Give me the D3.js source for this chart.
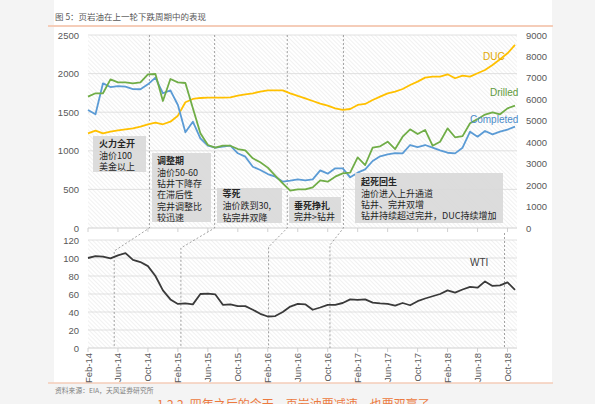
<!DOCTYPE html>
<html><head><meta charset="utf-8">
<script src="https://cdn.jsdelivr.net/npm/d3@7"></script>
<style>
html,body{margin:0;padding:0;background:#f4f4f4;}
svg{display:block;}
</style></head>
<body>
<svg id="chart" width="595" height="404"></svg>
<script>
// ---- data ----
const tickLabels = ["Feb-14","Jun-14","Oct-14","Feb-15","Jun-15","Oct-15","Feb-16","Jun-16","Oct-16","Feb-17","Jun-17","Oct-17","Feb-18","Jun-18","Oct-18"];
const completed = [1528,1473,1874,1826,1839,1830,1800,1797,1861,1947,
  1745,1783,1593,1239,1377,1162,1066,1040,1053,1066,
  968,924,794,751,699,665,600,613,630,617,
  630,747,704,773,773,656,717,760,868,928,
  954,971,967,1075,1049,1075,1040,1005,975,967,
  1040,1248,1183,1257,1213,1248,1275,1313];
const drilled = [1701,1745,1745,1926,1887,1887,1874,1887,1991,1995,
  1645,1930,1887,1878,1550,1226,1075,1040,1066,1066,
  1023,1006,903,851,782,678,579,484,501,501,
  527,618,600,665,708,717,915,816,1040,1058,
  1118,1023,1183,1278,1218,1270,1066,1117,1291,1175,
  1190,1356,1410,1470,1498,1473,1550,1585];
const duc = [4417,4538,4417,4492,4557,4603,4650,4725,4837,4911,
  4837,4958,5238,5862,6017,6063,6078,6078,6078,6090,
  6171,6234,6281,6359,6421,6421,6421,6281,6157,6048,
  5923,5799,5706,5582,5504,5550,5737,5784,5970,6125,
  6281,6359,6483,6670,6825,7011,7057,7057,7167,6982,
  7105,7057,7214,7370,7603,7867,8147,8535];
const wti = [100,102,101.5,99.5,103,105.5,98,95.5,91,80,
  64,54,49,49.5,48.5,60,60.5,59.5,48,48.5,
  46.5,46.5,42.5,38,35,35.5,40,46,49,48.5,
  42.5,45,48,48,50,54,53.5,54,50.5,49.5,
  49,47,50,47.5,52,55,57.5,60,64,61.5,
  65,68,67,74,69,69.5,73,64.5];
const leftTicks = [0,500,1000,1500,2000,2500];
const rightTicks = [0,1000,2000,3000,4000,5000,6000,7000,8000,9000];
const wtiTicks = [0,20,40,60,80,100,120];
const phases = [
  ["火力全开","油价100","美金以上"],
  ["调整期","油价50-60","钻井下降存","在滞后性","完井调整比","较迅速"],
  ["等死","油价跌到30,","钻完井双降"],
  ["垂死挣扎","完井>钻井"],
  ["起死回生","油价进入上升通道","钻井、完井双增","钻井持续超过完井，DUC持续增加"]
];
const title = "图 5：页岩油在上一轮下跌周期中的表现";
const source = "资料来源：EIA，天风证券研究所";

// ---- layout ----
const svg = d3.select("#chart");
const FN = "'Liberation Sans', Arial, sans-serif";
const FC = "'Noto Sans CJK SC', sans-serif";
const axisCol = "#595959";

svg.append("rect").attr("x",54).attr("y",0).attr("width",498).attr("height",383).attr("fill","#fff");

const defs = svg.append("defs");
const pat = defs.append("pattern").attr("id","hatch").attr("patternUnits","userSpaceOnUse")
  .attr("width",3).attr("height",3).attr("patternTransform","rotate(-45)");
pat.append("rect").attr("width",3).attr("height",3).attr("fill","#fff");
pat.append("line").attr("x1",0).attr("y1",0).attr("x2",0).attr("y2",3).attr("stroke","#e3e3e3").attr("stroke-width",1);

// title & lines
svg.append("text").attr("x",55).attr("y",20).attr("font-family",FC).attr("font-size",8.5).attr("fill","#595959").text(title);
svg.append("line").attr("x1",48).attr("x2",553).attr("y1",26).attr("y2",26).attr("stroke","#f5cdb9").attr("stroke-width",2);
svg.append("line").attr("x1",48).attr("x2",553).attr("y1",383).attr("y2",383).attr("stroke","#f5cdb9").attr("stroke-width",1.5);
svg.append("text").attr("x",55).attr("y",393).attr("font-family",FC).attr("font-size",6.8).attr("fill","#7f7f7f").text(source);
svg.append("text").attr("x",157).attr("y",409).attr("font-family",FC).attr("font-size",12).attr("fill","#ec7a3f").text("1.2.2. 四年之后的今天，页岩油要减速，也要双赢了");

const xL = 88, xR = 517;
const x = d3.scaleLinear().domain([0, duc.length-1]).range([88, 515]);
const yL = d3.scaleLinear().domain([0,2500]).range([228,35]);
const yR = d3.scaleLinear().domain([0,9000]).range([228,35]);
const yW = d3.scaleLinear().domain([0,120]).range([348,240]);

// plot backgrounds
svg.append("rect").attr("x",xL).attr("y",35).attr("width",xR-xL).attr("height",193).attr("fill","url(#hatch)");
svg.append("rect").attr("x",xL).attr("y",240).attr("width",xR-xL).attr("height",108).attr("fill","url(#hatch)");

// gridlines
svg.append("g").selectAll("line").data(leftTicks.slice(1)).join("line")
  .attr("x1",xL).attr("x2",xR).attr("y1",d=>yL(d)).attr("y2",d=>yL(d)).attr("stroke","#d9d9d9").attr("stroke-width",0.8);
svg.append("g").selectAll("line").data(wtiTicks.slice(1)).join("line")
  .attr("x1",xL).attr("x2",xR).attr("y1",d=>yW(d)).attr("y2",d=>yW(d)).attr("stroke","#d9d9d9").attr("stroke-width",0.8);

// axes
const tickIdx = tickLabels.map((_,i)=>i*4);
function xAxisLine(y){
  svg.append("line").attr("x1",xL).attr("x2",xR).attr("y1",y).attr("y2",y).attr("stroke","#d0d0d0").attr("stroke-width",1);
  svg.append("g").selectAll("line").data(tickIdx).join("line")
    .attr("x1",d=>x(d)).attr("x2",d=>x(d)).attr("y1",y).attr("y2",y+4).attr("stroke","#d0d0d0").attr("stroke-width",1);
}
xAxisLine(228); xAxisLine(348);
svg.append("g").selectAll("text").data(tickLabels).join("text")
  .attr("transform",(d,i)=>`translate(${x(i*4)+3.5},353) rotate(-90)`)
  .attr("text-anchor","end").attr("font-family",FN).attr("font-size",9.5).attr("fill",axisCol).text(d=>d);

svg.append("g").selectAll("text").data(leftTicks).join("text")
  .attr("x",79).attr("y",d=>yL(d)+3.5).attr("text-anchor","end").attr("font-family",FN).attr("font-size",9.5).attr("fill",axisCol).text(d=>d);
svg.append("g").selectAll("text").data(rightTicks).join("text")
  .attr("x",526).attr("y",d=>yR(d)+3.5).attr("text-anchor","start").attr("font-family",FN).attr("font-size",9.5).attr("fill",axisCol).text(d=>d);
svg.append("g").selectAll("text").data(wtiTicks).join("text")
  .attr("x",79).attr("y",d=>yW(d)+3.5).attr("text-anchor","end").attr("font-family",FN).attr("font-size",9.5).attr("fill",axisCol).text(d=>d);

// dotted guide lines
const dash = {"stroke":"#8c8c8c","stroke-width":0.8,"stroke-dasharray":"2,2","fill":"none"};
function dl(pts){ const p = svg.append("path").attr("d", d3.line()(pts)); Object.entries(dash).forEach(([k,v])=>p.attr(k,v)); }
const topB = [8.2, 16.9, 26.6, 34.1];
const botB = [3.5, 12.4, 24.1, 32.3];
const botY = [251, 248, 247, 245];
topB.forEach((t,k)=>{
  dl([[x(t),35],[x(t),228],[x(botB[k]),botY[k]],[x(botB[k]),348]]);
});
dl([[x(55.6),233],[x(55.6),348]]);

// lines
const lineL = d3.line().x((d,i)=>x(i)).y(d=>yL(d));
const lineR = d3.line().x((d,i)=>x(i)).y(d=>yR(d));
const lineW = d3.line().x((d,i)=>x(i)).y(d=>yW(d));
svg.append("path").attr("d",lineR(duc)).attr("fill","none").attr("stroke","#FFC000").attr("stroke-width",1.8).attr("stroke-linejoin","round");
svg.append("path").attr("d",lineL(completed)).attr("fill","none").attr("stroke","#5B9BD5").attr("stroke-width",1.8).attr("stroke-linejoin","round");
svg.append("path").attr("d",lineL(drilled)).attr("fill","none").attr("stroke","#70AD47").attr("stroke-width",1.8).attr("stroke-linejoin","round");
svg.append("path").attr("d",lineW(wti)).attr("fill","none").attr("stroke","#3a3a3a").attr("stroke-width",1.8).attr("stroke-linejoin","round");

// series labels
svg.append("text").attr("x",483).attr("y",60).attr("font-family",FN).attr("font-size",10).attr("fill","#E2A800").text("DUC");
svg.append("text").attr("x",490).attr("y",96).attr("font-family",FN).attr("font-size",10).attr("fill","#5f9a3b").text("Drilled");
svg.append("text").attr("x",470).attr("y",123).attr("font-family",FN).attr("font-size",10).attr("fill","#4a8ac8").text("Completed");
svg.append("text").attr("x",470).attr("y",266).attr("font-family",FN).attr("font-size",10).attr("fill","#404040").text("WTI");

// annotation boxes
const boxes = [
  {r:[93,136,53,36], tx:99, ty:[144,155.5,167]},
  {r:[152,153,59,69], tx:157, ty:[161,172.3,183.5,195,206.7,217.7]},
  {r:[217,188,65,35], tx:222.5, ty:[194,206,217.5]},
  {r:[289,197,52,26], tx:294, ty:[205.5,216.7]},
  {r:[355,173,148,50], tx:361, ty:[181.7,193.3,205,215.7]}
];
boxes.forEach((b,k)=>{
  svg.append("rect").attr("x",b.r[0]).attr("y",b.r[1]).attr("width",b.r[2]).attr("height",b.r[3]).attr("fill","#d9d9d9").attr("opacity",0.92);
  svg.append("g").selectAll("text").data(phases[k]).join("text")
    .attr("x",b.tx).attr("y",(d,i)=>b.ty[i]+3.3).attr("font-family",FC).attr("font-size",9)
    .attr("font-weight",(d,i)=>i===0?"bold":"normal").attr("fill","#262626").text(d=>d);
});
</script>
</body></html>
